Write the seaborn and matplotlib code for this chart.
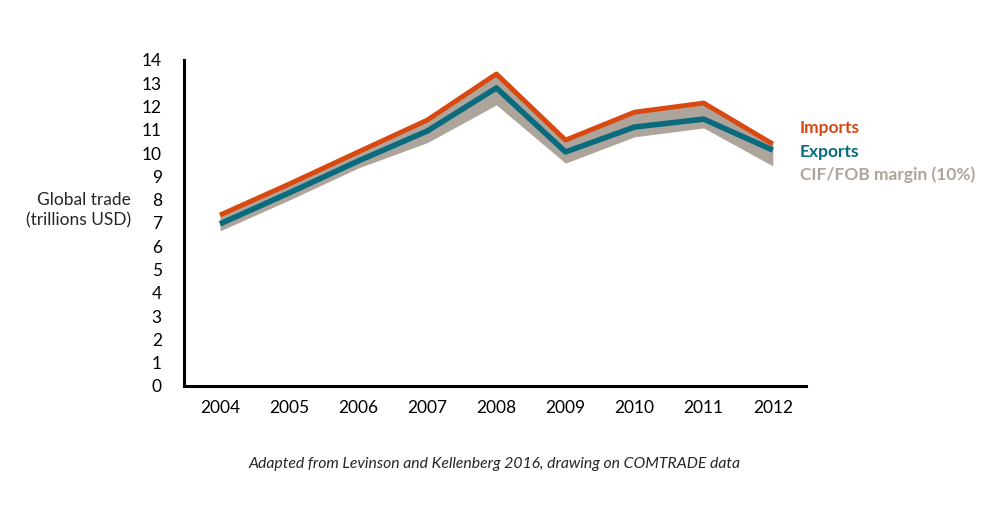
import numpy as np
import pandas as pd
import matplotlib
matplotlib.use("Agg")
import matplotlib.pyplot as plt
import seaborn as sns

years = [2004, 2005, 2006, 2007, 2008, 2009, 2010, 2011, 2012]
imports = [7.34, 8.67, 10.05, 11.42, 13.4, 10.56, 11.76, 12.15, 10.39]
exports = [6.96, 8.29, 9.66, 10.95, 12.8, 10.05, 11.12, 11.46, 10.13]
margin_low = [6.66, 7.98, 9.36, 10.45, 12.07, 9.57, 10.7, 11.08, 9.45]

c_imp = "#D9480F"
c_exp = "#0A6A7E"
c_mar = "#ADA59C"

sns.set_theme(style="white")
plt.rcParams["font.family"] = ["Lato", "DejaVu Sans"]

df = pd.DataFrame({"year": years, "Imports": imports, "Exports": exports, "low": margin_low})

fig = plt.figure(figsize=(10, 5.07), dpi=100)
ax = fig.add_axes([0.184, 0.2387, 0.622, 0.643])

ax.fill_between(df["year"], df["low"], df["Imports"], color=c_mar, lw=0, zorder=1)
sns.lineplot(data=df, x="year", y="Imports", color=c_imp, lw=3.5, ax=ax, zorder=3,
             solid_capstyle="butt")
sns.lineplot(data=df, x="year", y="Exports", color=c_exp, lw=4, ax=ax, zorder=3,
             solid_capstyle="butt")

ax.set_xlim(2003.48, 2012.48)
ax.set_ylim(0, 14)
ax.set_xticks(years)
ax.set_yticks(range(0, 15))
ax.tick_params(axis="both", length=0, labelsize=12.5, colors="black")
ax.tick_params(axis="y", pad=16)
ax.tick_params(axis="x", pad=10)
ax.set_xlabel("")
ax.set_ylabel("")
sns.despine(ax=ax)
for s in ["left", "bottom"]:
    ax.spines[s].set_linewidth(2.2)
    ax.spines[s].set_color("black")

fig.text(0.131, 0.585, "Global trade\n(trillions USD)", ha="right", va="center",
         fontsize=12.5, linespacing=1.35)

fig.text(0.800, 0.747, "Imports", color=c_imp, fontsize=12.5, fontweight="bold", va="center")
fig.text(0.800, 0.700, "Exports", color=c_exp, fontsize=12.5, fontweight="bold", va="center")
fig.text(0.800, 0.655, "CIF/FOB margin (10%)", color=c_mar, fontsize=12.5, fontweight="bold", va="center")

fig.text(0.495, 0.085, "Adapted from Levinson and Kellenberg 2016, drawing on COMTRADE data",
         ha="center", va="center", fontsize=11.3, style="italic")

fig.savefig("out.png", dpi=100)
